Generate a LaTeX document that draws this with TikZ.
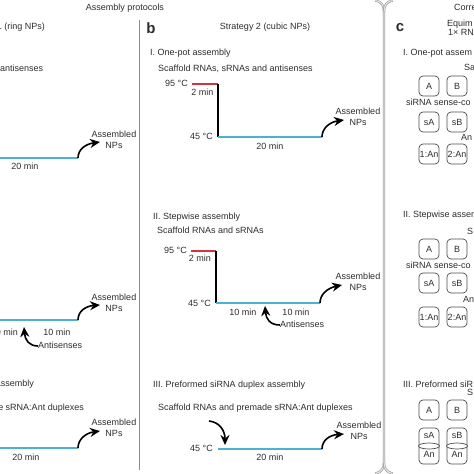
\documentclass[tikz,border=0pt]{standalone}
\usepackage{fontspec}
\setmainfont{Liberation Sans}
\usetikzlibrary{arrows.meta}
\definecolor{tred}{RGB}{205,55,65}
\definecolor{tblue}{RGB}{75,178,212}
\definecolor{txt}{RGB}{45,45,45}
\definecolor{sepc}{RGB}{140,140,140}
\begin{document}
\begin{tikzpicture}[x=1pt,y=-1pt,
 lbl/.style={inner sep=0pt, font=\fontsize{9}{10}\selectfont, text=txt, text height=6.5pt, text depth=2pt},
 asm/.style={inner sep=0pt, font=\fontsize{9}{10.5}\selectfont, text=txt, align=center},
 panel/.style={inner sep=0pt, font=\fontsize{15}{15}\selectfont\bfseries, text=txt},
 hot/.style={draw=tred, line width=1.5pt},
 cool/.style={draw=tblue, line width=1.5pt},
 ramp/.style={draw=black, line width=1.5pt},
 bigarrow/.style={draw=black, line width=1.6pt, -{Stealth[length=10pt,width=9pt]}},
 tube/.style={draw=txt!85, rounded corners=4pt, line width=0.7pt, minimum width=20pt, minimum height=20pt, inner sep=0pt, font=\fontsize{9}{10}\selectfont, text=txt},
 sepline/.style={draw=sepc, line width=0.8pt},
 braceline/.style={draw=sepc, line width=0.5pt, double=sepc!25, double distance=1.2pt},
]
\useasboundingbox (0,0) rectangle (474,474);
\clip (0,0) rectangle (474,474);

% title and separators
\node[lbl] (title) at (125,8) {Assembly protocols};
\coordinate (s1t) at (139.5,20);
\coordinate (s1b) at (139.5,470);
\draw[sepline] (s1t) -- (s1b);
\coordinate (brT) at (384,12);
\coordinate (brB) at (384,462);
\coordinate (brTL) at (375.5,0.5);
\coordinate (brTR) at (392.5,0.5);
\coordinate (brBL) at (375.5,473.5);
\coordinate (brBR) at (392.5,473.5);
\draw[braceline] (brTL) .. controls (381.5,2) and (384,5) .. (brT) -- (brB) .. controls (384,469) and (381.5,472) .. (brBL);
\draw[braceline] (brTR) .. controls (386.5,2) and (384,5) .. (brT);
\draw[braceline] (brBR) .. controls (386.5,472) and (384,469) .. (brB);

% ---------------- left (partial) panel ----------------
\node[lbl, anchor=east] (a0) at (45,27) {1 (ring NPs)};
\node[lbl, anchor=west] (a1) at (0,69) {antisenses};
\coordinate (aL1) at (-2,158);
\coordinate (aR1) at (78,158);
\draw[cool] (aL1) -- (aR1);
\node[lbl] (a1t) at (25,167) {20 min};
\node[asm] (aNP1) at (114,140) {Assembled\\NPs};
\coordinate (aTip1) at (100,142);
\draw[bigarrow] (aR1) .. controls (78,149) and (86,144) .. (aTip1);

\coordinate (aL2) at (-2,320);
\coordinate (aR2) at (78,320);
\draw[cool] (aL2) -- (aR2);
\node[lbl, anchor=east] (a2t1) at (18,333) {10 min};
\node[lbl] (a2t2) at (57,333) {10 min};
\node[lbl, anchor=west] (aAnti) at (38,346) {Antisenses};
\coordinate (aAntiTip) at (24,327);
\draw[bigarrow] (aAnti.west) .. controls (29,346) and (25,340) .. (aAntiTip);
\node[asm] (aNP2) at (114,303) {Assembled\\NPs};
\coordinate (aTip2) at (100,305);
\draw[bigarrow] (aR2) .. controls (78,311) and (86,306) .. (aTip2);

\node[lbl, anchor=east] (a3h) at (34,384) {assembly};
\node[lbl, anchor=east] (a3s) at (84,408) {premade sRNA:Ant duplexes};
\coordinate (aL3) at (-2,448);
\coordinate (aR3) at (78,448);
\draw[cool] (aL3) -- (aR3);
\node[lbl] (a3t) at (26,458) {20 min};
\node[asm] (aNP3) at (114,428) {Assembled\\NPs};
\coordinate (aTip3) at (100,431);
\draw[bigarrow] (aR3) .. controls (78,439) and (86,433) .. (aTip3);

% ---------------- panel b ----------------
\node[panel] (bl) at (151,28) {b};
\node[lbl] (bh) at (265,27) {Strategy 2 (cubic NPs)};

% I
\node[lbl, anchor=west] (b1h) at (150,53) {I. One-pot assembly};
\node[lbl, anchor=west] (b1s) at (158,69) {Scaffold RNAs, sRNAs and antisenses};
\coordinate (b1a) at (192,84);
\coordinate (b1b) at (218,84);
\coordinate (b1c) at (218,137);
\coordinate (b1d) at (322,137);
\draw[hot] (b1a) -- (b1b);
\draw[ramp] (b1b) -- (b1c);
\draw[cool] (b1c) -- (b1d);
\node[lbl, anchor=east] (b1hi) at (188,84) {95 °C};
\node[lbl] (b1m) at (202.5,93) {2 min};
\node[lbl, anchor=east] (b1lo) at (213,137) {45 °C};
\node[lbl] (b1t) at (270,147) {20 min};
\node[asm] (bNP1) at (358,117) {Assembled\\NPs};
\coordinate (bTip1) at (344,120);
\draw[bigarrow] (b1d) .. controls (322,128) and (330,122) .. (bTip1);

% II
\node[lbl, anchor=west] (b2h) at (153,217) {II. Stepwise assembly};
\node[lbl, anchor=west] (b2s) at (157,231) {Scaffold RNAs and sRNAs};
\coordinate (b2a) at (191,251);
\coordinate (b2b) at (216,251);
\coordinate (b2c) at (216,303);
\coordinate (b2d) at (320,303);
\draw[hot] (b2a) -- (b2b);
\draw[ramp] (b2b) -- (b2c);
\draw[cool] (b2c) -- (b2d);
\node[lbl, anchor=east] (b2hi) at (187,251) {95 °C};
\node[lbl] (b2m) at (200,259) {2 min};
\node[lbl, anchor=east] (b2lo) at (211,304) {45 °C};
\node[lbl] (b2t1) at (243,313) {10 min};
\node[lbl] (b2t2) at (296,313) {10 min};
\node[lbl, anchor=west] (bAnti) at (280,325) {Antisenses};
\coordinate (bAntiTip) at (265,306);
\draw[bigarrow] (bAnti.west) .. controls (270,325) and (266,319) .. (bAntiTip);
\node[asm] (bNP2) at (358,282) {Assembled\\NPs};
\coordinate (bTip2) at (342,285);
\draw[bigarrow] (b2d) .. controls (320,294) and (328,288) .. (bTip2);

% III
\node[lbl, anchor=west] (b3h) at (153,385) {III. Preformed siRNA duplex assembly};
\node[lbl, anchor=west] (b3s) at (158,408) {Scaffold RNAs and premade sRNA:Ant duplexes};
\coordinate (b3in) at (209,421);
\coordinate (b3inTip) at (225,445);
\draw[bigarrow] (b3in) .. controls (219,422) and (225,430) .. (b3inTip);
\coordinate (b3c) at (218,449);
\coordinate (b3d) at (322,449);
\draw[cool] (b3c) -- (b3d);
\node[lbl, anchor=east] (b3lo) at (213,449) {45 °C};
\node[lbl] (b3t) at (270,458) {20 min};
\node[asm] (bNP3) at (359,431) {Assembled\\NPs};
\coordinate (bTip3) at (344,434);
\draw[bigarrow] (b3d) .. controls (322,440) and (330,435) .. (bTip3);

% ---------------- panel c (partial) ----------------
\node[panel] (cl) at (400,28) {c};
\node[lbl, anchor=west] (c0) at (454,8) {Corre};
\node[lbl, anchor=west] (c0a) at (447,24) {Equim};
\node[lbl, anchor=west] (c0b) at (448,33) {1× RNA};

\node[lbl, anchor=west] (c1h) at (403,53) {I. One-pot assem};
\node[lbl, anchor=west] (c1s) at (464,68) {Sa};
\node[tube] (c1A) at (429,86) {A};
\node[tube] (c1B) at (457,86) {B};
\node[lbl, anchor=west] (c1si) at (406,103) {siRNA sense-co};
\node[tube] (c1sA) at (429,122) {sA};
\node[tube] (c1sB) at (457,122) {sB};
\node[lbl, anchor=west] (c1an) at (461,138) {An};
\node[tube] (c1a1) at (429,154) {1:An};
\node[tube] (c1a2) at (457,154) {2:An};

\node[lbl, anchor=west] (c2h) at (403,215) {II. Stepwise assem};
\node[lbl, anchor=west] (c2s) at (467,232) {S};
\node[tube] (c2A) at (429,249) {A};
\node[tube] (c2B) at (457,249) {B};
\node[lbl, anchor=west] (c2si) at (406,266) {siRNA sense-co};
\node[tube] (c2sA) at (429,283) {sA};
\node[tube] (c2sB) at (457,283) {sB};
\node[lbl, anchor=west] (c2an) at (463,300) {An};
\node[tube] (c2a1) at (429,317) {1:An};
\node[tube] (c2a2) at (457,317) {2:An};

\node[lbl, anchor=west] (c3h) at (403,385) {III. Preformed siR};
\node[lbl, anchor=west] (c3s) at (467,393) {S};
\node[tube] (c3A) at (429,410) {A};
\node[tube] (c3B) at (457,410) {B};
\node[tube, minimum height=36pt] (c3dA) at (429,446) {};
\node[tube, minimum height=36pt] (c3dB) at (457,446) {};
\draw[draw=txt!85, line width=0.7pt, fill=white] (c3dA.center) ellipse (10.5pt and 3pt);
\draw[draw=txt!85, line width=0.7pt, fill=white] (c3dB.center) ellipse (10.5pt and 3pt);
\node[lbl] (c3sA) at (429,436) {sA};
\node[lbl] (c3an1) at (429,455) {An};
\node[lbl] (c3sB) at (457,436) {sB};
\node[lbl] (c3an2) at (457,455) {An};
\end{tikzpicture}
\end{document}
